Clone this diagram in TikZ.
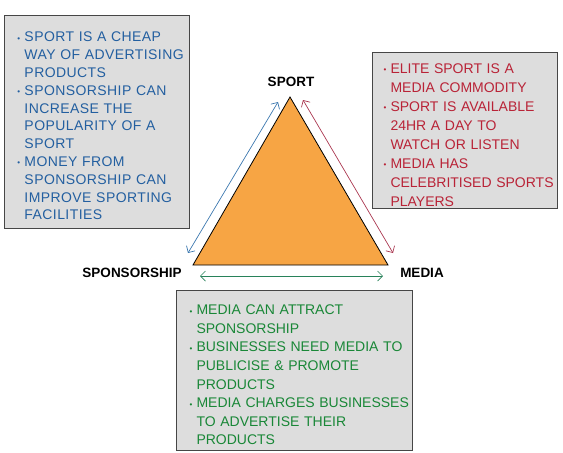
\documentclass[tikz,border=0pt]{standalone}
\usepackage{fontspec}
\setmainfont{Liberation Sans}
\usetikzlibrary{shapes,arrows,arrows.meta}
\definecolor{boxgray}{RGB}{221,221,221}
\definecolor{boxline}{RGB}{70,70,70}
\definecolor{sportorange}{RGB}{247,165,68}
\definecolor{txtblue}{RGB}{35,95,160}
\definecolor{txtred}{RGB}{185,35,55}
\definecolor{txtgreen}{RGB}{25,135,55}
\definecolor{arrblue}{RGB}{60,120,175}
\definecolor{arrred}{RGB}{170,55,80}
\definecolor{arrgreen}{RGB}{40,130,90}
\tikzstyle{infobox} = [rectangle, draw=boxline, line width=1pt, fill=boxgray, anchor=north west, inner xsep=4pt, inner ysep=0pt]
\tikzstyle{corner} = [font=\bfseries\fontsize{13.5}{15}\selectfont]
\tikzstyle{link} = [{Straight Barb[length=5pt,width=10pt]}-{Straight Barb[length=5pt,width=10pt]}, line width=0.7pt]
\newcommand{\itm}{\par\hangindent=7pt\hangafter=1\noindent\makebox[7pt][l]{\raisebox{0.5pt}{\fontsize{8}{8}\selectfont\textbullet}}}
\newcommand{\boxset}[1]{\raggedright\hyphenpenalty=10000\leftskip=#1\rightskip=-20pt plus 1fil}

\begin{document}
\begin{tikzpicture}[x=1pt,y=-1pt]
   \useasboundingbox (0,0) rectangle (563,453);
   \node[infobox, text width=177pt, minimum height=213pt, text=txtblue, font=\fontsize{14}{17.8}\selectfont\addfontfeature{LetterSpace=3}] (spbox) at (4,15)
      {\boxset{9pt}
       \itm SPORT IS A CHEAP\newline WAY OF ADVERTISING\newline PRODUCTS
       \itm SPONSORSHIP CAN\newline INCREASE THE\newline POPULARITY OF A\newline SPORT
       \itm MONEY FROM\newline SPONSORSHIP CAN\newline IMPROVE SPORTING\newline FACILITIES\par};
   \node[infobox, text width=177pt, minimum height=156pt, text=txtred, font=\fontsize{14}{19}\selectfont] (mdbox) at (372,52)
      {\boxset{7pt}
       \itm ELITE SPORT IS A\newline MEDIA COMMODITY
       \itm SPORT IS AVAILABLE\newline 24HR A DAY TO\newline WATCH OR LISTEN
       \itm MEDIA HAS\newline CELEBRITISED SPORTS\newline PLAYERS\par};
   \node[infobox, text width=228pt, minimum height=160pt, text=txtgreen, font=\fontsize{14}{18.6}\selectfont] (bsbox) at (176,290)
      {\boxset{9pt}
       \itm MEDIA CAN ATTRACT\newline SPONSORSHIP
       \itm BUSINESSES NEED MEDIA TO\newline PUBLICISE \& PROMOTE\newline PRODUCTS
       \itm MEDIA CHARGES BUSINESSES\newline TO ADVERTISE THEIR\newline PRODUCTS\par};
   \coordinate (top) at (290,97);
   \coordinate (left) at (193,265);
   \coordinate (right) at (388,265);
   \fill[sportorange] (top) -- (left) -- (right) -- cycle;
   \draw[line width=0.8pt, line join=miter] (top) -- (left) -- (right) -- cycle;
   \node[corner] (sport) at (291,82) {SPORT};
   \node[corner] (spons) at (132,273) {SPONSORSHIP};
   \node[corner] (media) at (422,273) {MEDIA};
   \coordinate (a1) at (188,253);
   \coordinate (a2) at (278,102);
   \coordinate (b1) at (303,100);
   \coordinate (b2) at (393,253);
   \coordinate (c1) at (200,276);
   \coordinate (c2) at (383,276);
   \draw[link, arrblue] (a1) -- (a2);
   \draw[link, arrred] (b1) -- (b2);
   \draw[link, arrgreen] (c1) -- (c2);
\end{tikzpicture}
\end{document}
